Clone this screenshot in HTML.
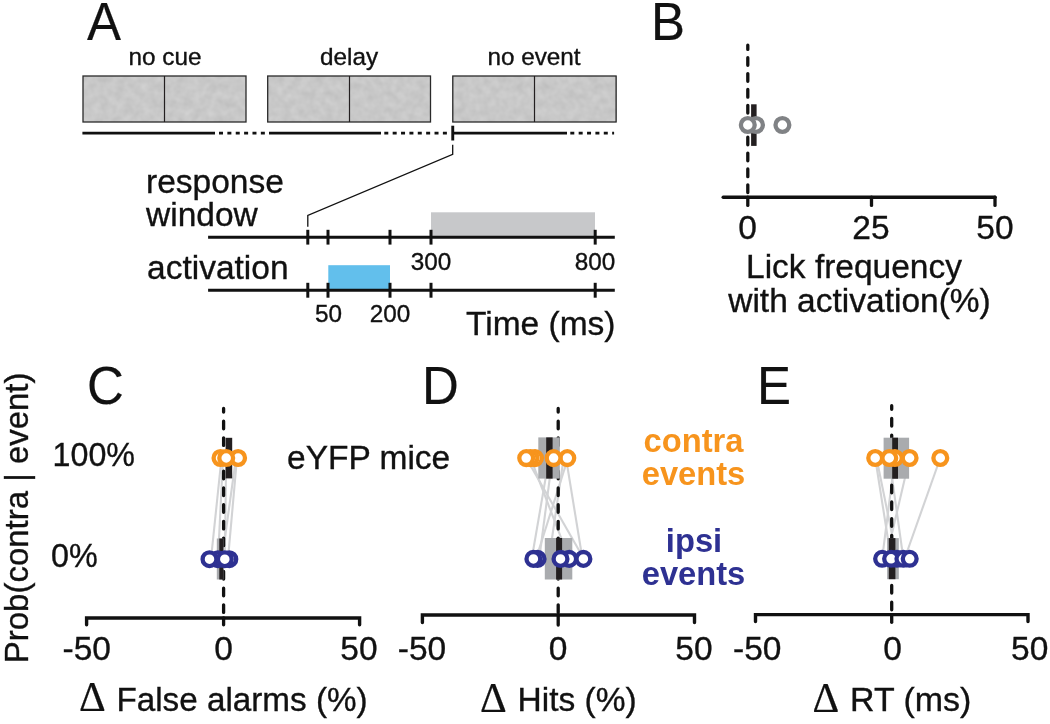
<!DOCTYPE html>
<html lang="en">
<head>
<meta charset="utf-8">
<title>Figure</title>
<style>
html,body{margin:0;padding:0;background:#fff;}
body{width:1050px;height:724px;overflow:hidden;}
svg{display:block;}
text{font-family:"Liberation Sans",sans-serif;fill:#111;stroke:#111;stroke-width:0.35;}
.pl{font-size:51px;stroke-width:0.2;}
.t24{font-size:24.3px;}
.t33{font-size:33.5px;}
.t31{font-size:33.5px;}
.sym{font-family:"Liberation Serif",serif;font-size:41.5px;stroke-width:0.2;}
.ax{stroke:#111;stroke-width:3.4;fill:none;stroke-linecap:round;stroke-linejoin:miter;}
.tk{stroke:#111;stroke-width:3.3;fill:none;stroke-linecap:round;}
.tka{stroke:#111;stroke-width:3;fill:none;stroke-linecap:butt;}
.axb{stroke:#111;stroke-width:3.1;fill:none;}
.dash{stroke:#111;stroke-width:3.3;stroke-dasharray:7.7 8.2;stroke-dashoffset:3.4;stroke-linecap:round;fill:none;}
.dash2{stroke:#111;stroke-width:3.3;stroke-dasharray:7.6 9.1;stroke-dashoffset:4;stroke-linecap:round;fill:none;}
.dot{stroke:#111;stroke-width:2.85;stroke-dasharray:4 4.37;fill:none;}
.axa{stroke:#111;stroke-width:2.85;fill:none;}
.bx{fill:none;stroke:#2a2a2a;stroke-width:1.3;}
.bf{fill:#c8c8c8;filter:url(#nz);}
.gl{stroke:#d2d3d5;stroke-width:2.1;fill:none;}
.gb{fill:#a9abae;}
.kb{fill:#231f20;}
.co{fill:#fff;stroke:#f7941d;stroke-width:4.3;}
.cb{fill:#fff;stroke:#2e3192;stroke-width:4.3;}
.cg{fill:#fff;stroke:#808285;stroke-width:4.3;}
.or{fill:#f7941d;stroke:none;font-weight:bold;font-size:32.7px;}
.bl{fill:#2e3192;stroke:none;font-weight:bold;font-size:32.7px;}
</style>
</head>
<body>
<svg width="1050" height="724" viewBox="0 0 1050 724">
<defs>
<filter id="nz" x="0" y="0" width="1" height="1" color-interpolation-filters="sRGB">
<feTurbulence type="fractalNoise" baseFrequency="0.12" numOctaves="2" seed="7" result="n"/>
<feColorMatrix in="n" type="matrix" values="0.09 0 0 0 0.74  0.09 0 0 0 0.74  0.09 0 0 0 0.74  0 0 0 0 1"/>
</filter>
</defs>
<rect x="0" y="0" width="1050" height="724" fill="#ffffff"/>

<!-- ================= Panel A ================= -->
<g id="panelA">
<text class="pl" transform="translate(87,40) scale(1,1.045)">A</text>
<text class="t24" x="165" y="65" text-anchor="middle">no cue</text>
<text class="t24" x="349" y="65" text-anchor="middle">delay</text>
<text class="t24" x="534" y="65" text-anchor="middle">no event</text>

<rect class="bf" x="83" y="76" width="163" height="46"/>
<rect class="bx" x="83" y="76" width="163" height="46"/>
<line x1="164.5" y1="76" x2="164.5" y2="122" stroke="#231f20" stroke-width="1.2"/>
<rect class="bf" x="267.7" y="76" width="162.8" height="46"/>
<rect class="bx" x="267.7" y="76" width="162.8" height="46"/>
<line x1="349.5" y1="76" x2="349.5" y2="122" stroke="#231f20" stroke-width="1.2"/>
<rect class="bf" x="452.8" y="76" width="163.3" height="46"/>
<rect class="bx" x="452.8" y="76" width="163.3" height="46"/>
<line x1="534.5" y1="76" x2="534.5" y2="122" stroke="#231f20" stroke-width="1.2"/>

<line class="axa" x1="82.4" y1="133.1" x2="215" y2="133.1"/>
<line class="dot" x1="219" y1="133.1" x2="265.1" y2="133.1"/>
<line class="axa" x1="269" y1="133.1" x2="381" y2="133.1"/>
<line class="dot" x1="384.3" y1="133.1" x2="447" y2="133.1"/>
<line class="axa" x1="452.7" y1="133.1" x2="567" y2="133.1"/>
<line class="dot" x1="570.3" y1="133.1" x2="614.1" y2="133.1"/>
<line x1="452.75" y1="125.7" x2="452.75" y2="140.5" stroke="#111" stroke-width="2.9"/>
<polyline points="452.7,144.8 452.7,154.3 307.8,215.4 307.8,226.8" fill="none" stroke="#111" stroke-width="1.3"/>

<text class="t33" x="146" y="193">response</text>
<text class="t33" x="146" y="226">window</text>
<text class="t33" x="147" y="279">activation</text>

<rect x="431" y="212.3" width="164" height="24" fill="#c7c8ca"/>
<rect x="328.3" y="265.2" width="61.7" height="25" fill="#62bfec"/>
<line class="axb" x1="208.1" y1="237.2" x2="614.8" y2="237.2"/>
<line class="axb" x1="208.1" y1="290.3" x2="614.8" y2="290.3"/>
<g class="tka">
<line x1="307.8" y1="229.8" x2="307.8" y2="244.6"/>
<line x1="328" y1="229.8" x2="328" y2="244.6"/>
<line x1="390" y1="229.8" x2="390" y2="244.6"/>
<line x1="431" y1="229.8" x2="431" y2="244.6"/>
<line x1="595.2" y1="229.8" x2="595.2" y2="244.6"/>
<line x1="307.8" y1="282.8" x2="307.8" y2="297.7"/>
<line x1="328" y1="282.8" x2="328" y2="297.7"/>
<line x1="390" y1="282.8" x2="390" y2="297.7"/>
<line x1="431" y1="282.8" x2="431" y2="297.7"/>
<line x1="595.2" y1="282.8" x2="595.2" y2="297.7"/>
</g>
<text class="t24" x="431" y="269.5" text-anchor="middle">300</text>
<text class="t24" x="595" y="269.5" text-anchor="middle">800</text>
<text class="t24" x="328.5" y="322" text-anchor="middle">50</text>
<text class="t24" x="390" y="322" text-anchor="middle">200</text>
<text class="t33" x="466" y="334.5">Time (ms)</text>
</g>

<!-- ================= Panel B ================= -->
<g id="panelB">
<text class="pl" transform="translate(651,40) scale(1,1.045)">B</text>
<line class="dash" x1="747.8" y1="45.15" x2="747.8" y2="195"/>
<rect class="kb" x="751.1" y="104.3" width="5.5" height="41.6"/>
<circle class="cg" cx="756" cy="125" r="6.9"/>
<circle class="cg" cx="747.8" cy="125" r="6.9"/>
<circle class="cg" cx="782.4" cy="125" r="6.9"/>
<polyline class="ax" points="723.2,197.2 995,197.2"/>
<g class="tk">
<line x1="747.8" y1="197.2" x2="747.8" y2="205.4"/>
<line x1="871.5" y1="197.2" x2="871.5" y2="205.4"/>
<line x1="995" y1="197.2" x2="995" y2="205.4"/>
</g>
<text class="t31" x="747.5" y="238.5" text-anchor="middle">0</text>
<text class="t31" x="871" y="238.5" text-anchor="middle">25</text>
<text class="t31" x="995" y="238.5" text-anchor="middle">50</text>
<text class="t33" x="854" y="278.3" text-anchor="middle">Lick frequency</text>
<text class="t33" x="859.5" y="311.6" text-anchor="middle">with activation(%)</text>
</g>

<!-- ================= Panel C ================= -->
<g id="panelC">
<text class="pl" transform="translate(87,404) scale(1,1.045)">C</text>
<text class="t33" transform="translate(28.2,663.2) rotate(-90)" textLength="290.7" lengthAdjust="spacingAndGlyphs">Prob(contra | event)</text>
<text class="t33" x="52.6" y="466" textLength="82.4" lengthAdjust="spacingAndGlyphs">100%</text>
<text class="t33" x="51" y="567" textLength="46.7" lengthAdjust="spacingAndGlyphs">0%</text>
<text class="t33" x="287" y="468.8">eYFP mice</text>

<g class="gl">
<line x1="221.5" y1="458" x2="211" y2="559"/>
<line x1="223" y1="458" x2="218" y2="559"/>
<line x1="226.2" y1="458" x2="224.8" y2="559"/>
<line x1="236" y1="458" x2="222" y2="559"/>
<line x1="237" y1="458" x2="228" y2="559"/>
</g>
<line class="dash2" x1="223.6" y1="408.45" x2="223.6" y2="616"/>
<rect class="gb" x="216.8" y="538.5" width="6.6" height="41"/>
<rect class="kb" x="225.6" y="437.8" width="6.6" height="40.6"/>
<rect class="kb" x="219.3" y="538.5" width="4.1" height="41"/>
<circle class="co" cx="220.5" cy="458" r="6.9"/>
<circle class="co" cx="238.1" cy="458" r="6.9"/>
<circle class="co" cx="226.2" cy="458" r="6.9"/>
<circle class="cb" cx="229.3" cy="559.2" r="6.9"/>
<circle class="cb" cx="218" cy="559.2" r="6.9"/>
<circle class="cb" cx="209.5" cy="559.2" r="6.9"/>
<circle class="cb" cx="224.8" cy="559.2" r="6.9"/>

<polyline class="ax" points="86.6,624.8 86.6,618 359.6,618 359.6,624.8"/>
<line class="tk" x1="223.6" y1="618" x2="223.6" y2="624.8"/>
<text class="t31" x="86.7" y="660" text-anchor="middle">-50</text>
<text class="t31" x="223.5" y="660" text-anchor="middle">0</text>
<text class="t31" x="359" y="660" text-anchor="middle">50</text>
<text class="sym" x="79" y="711">Δ</text><text class="t33" x="116.4" y="710.5" textLength="251.2" lengthAdjust="spacingAndGlyphs">False alarms (%)</text>
</g>

<!-- ================= Panel D ================= -->
<g id="panelD">
<text class="pl" transform="translate(422,404) scale(1,1.045)">D</text>
<g class="gl">
<line x1="530.5" y1="458" x2="569.2" y2="559"/>
<line x1="526.2" y1="458" x2="584" y2="559"/>
<line x1="568" y1="458" x2="536" y2="559"/>
<line x1="566" y1="458" x2="582.5" y2="559"/>
<line x1="549.1" y1="458" x2="531.7" y2="559"/>
<line x1="552.4" y1="458" x2="539.2" y2="559"/>
<line x1="563.7" y1="458" x2="549" y2="559"/>
</g>
<line class="dash2" x1="558.2" y1="408.45" x2="558.2" y2="616"/>
<rect class="gb" x="538.3" y="437.4" width="21.5" height="41.2"/>
<rect class="gb" x="544.8" y="538" width="27.5" height="41.5"/>
<rect class="kb" x="546.2" y="437.4" width="6.4" height="41.2"/>
<rect class="kb" x="556.1" y="538" width="6" height="41.5"/>
<circle class="co" cx="535" cy="458.1" r="6.9"/>
<circle class="co" cx="530.5" cy="458.1" r="6.9"/>
<circle class="co" cx="526.2" cy="458.1" r="6.9"/>
<circle class="co" cx="567.3" cy="458.1" r="6.9"/>
<circle class="co" cx="553.6" cy="458.1" r="6.9"/>
<circle class="cb" cx="537.6" cy="558.9" r="6.9"/>
<circle class="cb" cx="533.4" cy="558.9" r="6.9"/>
<circle class="cb" cx="569.2" cy="558.9" r="6.9"/>
<circle class="cb" cx="583.4" cy="558.9" r="6.9"/>
<circle class="cb" cx="560.5" cy="558.9" r="6.9"/>

<polyline class="ax" points="422.4,622.5 422.4,615 694.5,615 694.5,622.5"/>
<line class="tk" x1="558.2" y1="615" x2="558.2" y2="625"/>
<text class="t31" x="422" y="660" text-anchor="middle">-50</text>
<text class="t31" x="558" y="660" text-anchor="middle">0</text>
<text class="t31" x="694" y="660" text-anchor="middle">50</text>
<text class="sym" x="480" y="712">Δ</text><text class="t33" x="517.5" y="711">Hits (%)</text>

<text class="or" x="693.5" y="452" text-anchor="middle">contra</text>
<text class="or" x="693.5" y="484.6" text-anchor="middle">events</text>
<text class="bl" x="694" y="552.4" text-anchor="middle">ipsi</text>
<text class="bl" x="693.5" y="585.2" text-anchor="middle">events</text>
</g>

<!-- ================= Panel E ================= -->
<g id="panelE">
<text class="pl" transform="translate(757,404) scale(1,1.045)">E</text>
<g class="gl">
<line x1="875.2" y1="458" x2="891.1" y2="559"/>
<line x1="876.5" y1="458" x2="897" y2="559"/>
<line x1="889.3" y1="458" x2="903.4" y2="559"/>
<line x1="894.9" y1="458" x2="882.1" y2="559"/>
<line x1="909.6" y1="458" x2="886" y2="559"/>
<line x1="940.3" y1="458" x2="904.5" y2="559"/>
</g>
<line class="dash2" x1="891.7" y1="405.75" x2="891.7" y2="613.5"/>
<rect class="gb" x="883.6" y="437.7" width="25.5" height="41"/>
<rect class="gb" x="887.1" y="538.1" width="11.7" height="41.1"/>
<rect class="kb" x="892.2" y="437.7" width="5.8" height="41"/>
<rect class="kb" x="888.8" y="538.1" width="6.6" height="41.1"/>
<circle class="co" cx="875.2" cy="458" r="6.9"/>
<circle class="co" cx="894.9" cy="458" r="6.9"/>
<circle class="co" cx="889.3" cy="458" r="6.9"/>
<circle class="co" cx="909.6" cy="458" r="6.9"/>
<circle class="co" cx="940.3" cy="458" r="6.9"/>
<circle class="cb" cx="897" cy="558.8" r="6.9"/>
<circle class="cb" cx="882.1" cy="558.8" r="6.9"/>
<circle class="cb" cx="891.1" cy="558.8" r="6.9"/>
<circle class="cb" cx="903.4" cy="558.8" r="6.9"/>
<circle class="cb" cx="909.7" cy="558.8" r="6.9"/>

<polyline class="ax" points="755.5,621.6 755.5,614.6 1028,614.6 1028,621.6"/>
<line class="tk" x1="891.7" y1="614.6" x2="891.7" y2="622.3"/>
<text class="t31" x="757.3" y="660.3" text-anchor="middle">-50</text>
<text class="t31" x="892.5" y="660.3" text-anchor="middle">0</text>
<text class="t31" x="1029.7" y="660.3" text-anchor="middle">50</text>
<text class="sym" x="812.5" y="712">Δ</text><text class="t33" x="850" y="711.3" textLength="121.2" lengthAdjust="spacingAndGlyphs">RT (ms)</text>
</g>
</svg>
</body>
</html>
